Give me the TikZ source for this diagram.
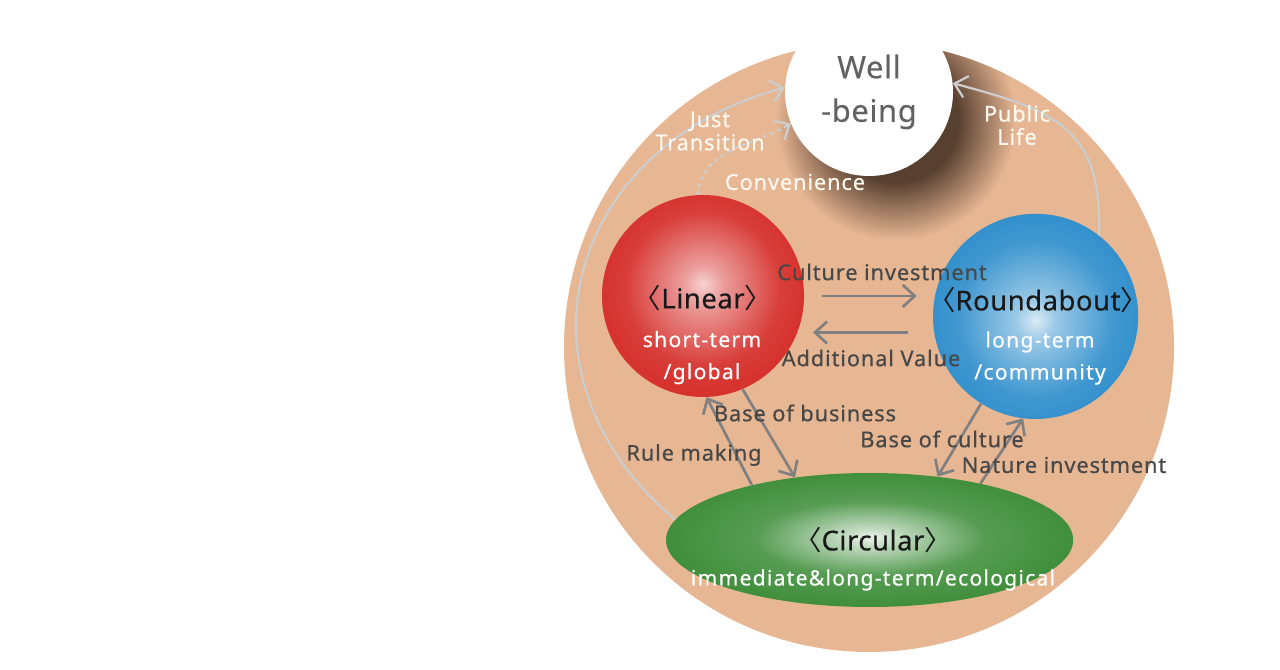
\documentclass[tikz,border=0pt]{standalone}
\usepackage{fontspec}
\setmainfont{Noto Sans}
\newfontfamily\cjk{Noto Sans CJK JP}
\usepackage{xcolor}
\usepackage{tikz}
\usetikzlibrary{calc}
\usetikzlibrary{positioning}
\usetikzlibrary{shapes.geometric}
\usetikzlibrary{arrows.meta}

\definecolor{tanbg}{RGB}{231,182,147}
\definecolor{shadowbrown}{RGB}{88,64,48}
\definecolor{redball}{RGB}{214,50,46}
\definecolor{blueball}{RGB}{52,145,205}
\definecolor{greenball}{RGB}{64,143,60}
\definecolor{arrowgray}{RGB}{128,128,128}
\definecolor{softgray}{RGB}{205,205,205}
\definecolor{labelgray}{RGB}{72,72,72}
\definecolor{wellgray}{RGB}{98,98,98}
\definecolor{cream}{RGB}{252,248,240}

\newcommand{\ang}[1]{{\cjk 〈}#1{\cjk 〉}}

\pgfdeclareradialshading{linearball}{\pgfqpoint{0bp}{3bp}}{color(0bp)=(white!78!redball); color(5bp)=(white!52!redball); color(19bp)=(redball!94!white); color(25bp)=(redball); color(50bp)=(redball)}
\pgfdeclareradialshading{roundball}{\pgfqpoint{0bp}{-1bp}}{color(0bp)=(white!82!blueball); color(5bp)=(white!50!blueball); color(19bp)=(blueball!94!white); color(25bp)=(blueball); color(50bp)=(blueball)}
\pgfdeclareradialshading{circball}{\pgfqpoint{0bp}{1bp}}{color(0bp)=(white!90!greenball); color(3bp)=(white!70!greenball); color(14bp)=(greenball!88!white); color(25bp)=(greenball); color(50bp)=(greenball)}
\pgfdeclareradialshading{wbshadow}{\pgfpointorigin}{color(0bp)=(shadowbrown); color(13bp)=(shadowbrown); color(25bp)=(tanbg); color(50bp)=(tanbg)}

\begin{document}
\begin{tikzpicture}[>={Straight Barb[length=3mm,width=5.5mm]},
  base/.style={circle, fill=tanbg, minimum size=15.25cm, inner sep=0pt},
  wellnode/.style={circle, fill=white, minimum size=4.2cm, inner sep=0pt, align=center, text=wellgray, font=\fontsize{22}{31}\selectfont\addfontfeatures{LetterSpace=2, FakeBold=0.3}},
  ball/.style={circle, shade, inner sep=0pt},
  title/.style={text=black!90, font=\fontsize{19.5}{22}\selectfont\addfontfeatures{LetterSpace=2, FakeBold=0.4}},
  sublabel/.style={align=center, text=white, font=\fontsize{15}{22.8}\selectfont\addfontfeatures{LetterSpace=6, FakeBold=0.5}},
  label/.style={align=center, text=labelgray, font=\fontsize{15.5}{17}\selectfont\addfontfeatures{LetterSpace=4, FakeBold=0.5}},
  softlabel/.style={align=center, text=cream, font=\fontsize{15.5}{16.5}\selectfont\addfontfeatures{LetterSpace=4, FakeBold=0.5}},
  flow/.style={->, draw=arrowgray, line width=1.9pt},
  soft/.style={->, draw=softgray, line width=1.6pt}]

  \useasboundingbox (0,0) rectangle (32,16.75);
  \fill[white] (0,0) rectangle (32,16.75);

  \node[base] (base) at (21.725,8.075) {};
  \begin{scope}
    \clip (21.725,8.075) circle (7.625);
    \shade[shading=wbshadow] (22.4,13.75) circle (3);
  \end{scope}
  \node[wellnode] (wellbeing) at (21.725,14.45) {Well\\-being};

  \node[ball, shading=linearball, minimum size=5.05cm] (linear) at (17.575,9.35) {};
  \node[ball, shading=roundball, minimum size=5.13cm] (roundabout) at (25.89,8.84) {};
  \node[ball, ellipse, shading=circball, minimum width=10.18cm, minimum height=3.35cm] (circular) at (21.74,3.25) {};

  \node[title] (lineartitle) at (17.575,9.3) {\ang{Linear}};
  \node[title] (roundtitle) at (25.95,9.25) {\ang{Roundabout}};
  \node[title] (circtitle) at (21.825,3.25) {\ang{Circular}};

  \node[sublabel] (linearsub) at (17.55,7.81) {short-term\\/global};
  \node[sublabel] (roundsub) at (26.0,7.8) {long-term\\/community};
  \node[sublabel] (circsub) at (21.825,2.25) {immediate\&long-term/ecological};

  \draw[flow, shorten <=0.45cm, shorten >=0.4cm] (linear.east) -- (roundabout.west |- linear.east);
  \draw[flow, shorten <=0.65cm, shorten >=0.22cm] (roundabout.-171) -- (roundabout.-171 -| linear.east);
  \draw[flow] (circular.155) -- (linear.-88);
  \draw[flow] (linear.-67) -- (circular.140);
  \draw[flow] (roundabout.-122) -- (circular.43);
  \draw[flow] (circular.27) -- (roundabout.-97);

  \draw[soft] (circular.174) to[out=140, in=195, looseness=1.3] (wellbeing.177);
  \draw[soft, dash pattern=on 3pt off 2.5pt] (linear.93) to[out=85, in=210] (wellbeing.202);
  \draw[soft] (roundabout.52) to[out=88, in=345, looseness=1.3] (wellbeing.6);

  \node[label] (culturelbl) at (22.05,9.95) {Culture investment};
  \node[label] (valuelbl) at (21.775,7.8) {Additional Value};
  \node[label] (businesslbl) at (20.125,6.425) {Base of business};
  \node[label] (rulelbl) at (17.35,5.375) {Rule making};
  \node[label] (culturebaselbl) at (23.55,5.775) {Base of culture};
  \node[label] (naturelbl) at (26.6,5.125) {Nature investment};

  \node[softlabel] (justlbl) at (17.75,13.475) {Just\\Transition};
  \node[softlabel] (conveniencelbl) at (19.875,12.2) {Convenience};
  \node[softlabel] (publiclbl) at (25.425,13.625) {Public\\Life};
\end{tikzpicture}
\end{document}
